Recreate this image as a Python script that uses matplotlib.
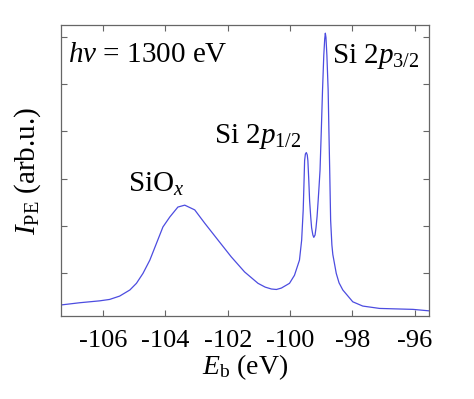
import matplotlib
matplotlib.use("Agg")
import matplotlib.pyplot as plt

plt.rcParams['font.family'] = ['Liberation Serif', 'DejaVu Serif']
plt.rcParams['mathtext.fontset'] = 'custom'
plt.rcParams['mathtext.rm'] = 'Liberation Serif'
plt.rcParams['mathtext.it'] = 'Liberation Serif:italic'

# spectrum (binding energy in eV, intensity in arb. u.)
energy = [-107.39, -106.75, -106.11, -105.79, -105.47, -105.14, -104.93, -104.72,
          -104.50, -104.29, -104.08, -103.86, -103.60, -103.38, -103.06, -102.74,
          -102.31, -101.89, -101.46, -101.03, -100.80, -100.60, -100.44, -100.28,
          -100.02, -99.86,
          -99.70, -99.63, -99.58, -99.555, -99.535, -99.51, -99.48, -99.45, -99.43,
          -99.40, -99.375, -99.34, -99.31, -99.27, -99.24, -99.20, -99.17, -99.135,
          -99.10, -99.07, -99.04, -99.00, -98.96, -98.92, -98.89, -98.87, -98.85,
          -98.82, -98.78, -98.755, -98.73, -98.70, -98.66, -98.63, -98.52, -98.43,
          -98.31, -97.99, -97.67, -97.13, -96.60, -96.06, -95.56]
intensity = [0.33, 0.38, 0.42, 0.45, 0.52, 0.65, 0.79, 1.00,
             1.28, 1.63, 1.98, 2.19, 2.40, 2.44, 2.34, 2.06,
             1.70, 1.35, 1.03, 0.79, 0.71, 0.67, 0.66, 0.69,
             0.79, 0.96,
             1.28, 1.70, 2.34, 2.90, 3.38, 3.52, 3.55, 3.50, 3.38,
             2.95, 2.54, 2.20, 1.96, 1.81, 1.76, 1.81, 1.96, 2.20,
             2.54, 2.85, 3.18, 4.00, 4.87, 5.60, 5.95, 6.07, 5.98,
             5.60, 4.87, 4.00, 3.18, 2.12, 1.60, 1.40, 1.00, 0.80,
             0.65, 0.40, 0.31, 0.26, 0.25, 0.24, 0.21]

xticks = [-106, -104, -102, -100, -98, -96]
yticks = [1, 2, 3, 4, 5, 6]

fig = plt.figure(figsize=(4.74, 3.99), dpi=100)
ax = fig.add_axes([0.1287, 0.208, 0.776, 0.729])
ax.plot(energy, intensity, color='#4c4ce0', lw=0.9)

ax.set_xlim(-107.35, -95.55)
ax.set_ylim(0.1, 6.24)
ax.set_xticks(xticks)
ax.set_xticklabels([str(t) for t in xticks])
ax.set_yticks(yticks)
ax.set_yticklabels([])
ax.tick_params(direction='in', top=True, right=True, length=4, width=0.8,
               color='#666666', labelsize=19, pad=10)
for s in ax.spines.values():
    s.set_color('#666666')
    s.set_linewidth(0.9)

ax.set_xlabel(r'$E_{\mathrm{b}}$ (eV)', fontsize=20, labelpad=0)
ax.set_ylabel(r'$I_{\mathrm{PE}}$ (arb.u.)', fontsize=21, labelpad=3)

ax.text(0.019, 0.873, r'$hv$ = 1300 eV', transform=ax.transAxes, fontsize=21,
        ha='left', va='baseline')
ax.text(-105.21, 2.72, r'SiO$_x$', fontsize=21, ha='left', va='baseline')
ax.text(-102.45, 3.75, r'Si 2$p_{1/2}$', fontsize=21, ha='left', va='baseline')
ax.text(-98.67, 5.44, r'Si 2$p_{3/2}$', fontsize=21, ha='left', va='baseline')

fig.savefig('out.png', dpi=100)
